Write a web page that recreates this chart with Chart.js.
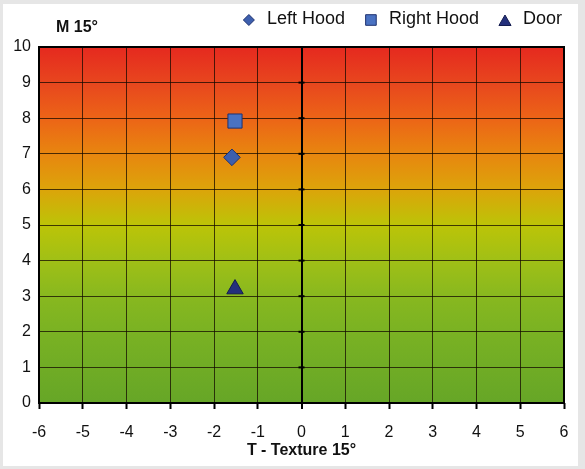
<!DOCTYPE html>
<html>
<head>
<meta charset="utf-8">
<script src="https://cdn.jsdelivr.net/npm/chart.js@4/dist/chart.umd.min.js"></script>
<style>
  html, body { margin: 0; padding: 0; background: #e6e6e6; }
  #wrap { position: absolute; left: 3px; top: 4px; width: 575px; height: 462px; background: #fff; }
</style>
</head>
<body>
<div id="wrap"><canvas id="chart"></canvas></div>
<script>
// Chart data
const seriesNames = ['Left Hood', 'Right Hood', 'Door'];
const textureValues = [-1.59, -1.52, -1.52];   // T - Texture 15°
const metallicValues = [6.90, 7.92, 3.2];      // M 15°
const xTicks = [-6, -5, -4, -3, -2, -1, 0, 1, 2, 3, 4, 5, 6];
const yTicks = [0, 1, 2, 3, 4, 5, 6, 7, 8, 9, 10];

const pointStyles = ['rectRot', 'rect', 'triangle'];
const fills = ['#3d5fae', '#4a72c2', '#24307c'];
const borders = ['#1f3270', '#1f3270', '#141c50'];
const radii = [8.3, 10, 9.5];
const legendRadii = [5.5, 7.5, 7];

const FONT = '"Liberation Sans", Arial, sans-serif';

// Red -> orange -> yellow-green -> green background, frame, legend and y caption
const bgPlugin = {
    id: 'bgGradient',
    beforeDraw(chart) {
        const { ctx, chartArea: a } = chart;
        const g = ctx.createLinearGradient(0, a.top, 0, a.bottom);
        g.addColorStop(0, '#e5291f');
        g.addColorStop(0.1, '#e8461e');
        g.addColorStop(0.2, '#ec6417');
        g.addColorStop(0.3, '#e8860f');
        g.addColorStop(0.4, '#dca40a');
        g.addColorStop(0.5, '#bcc407');
        g.addColorStop(0.6, '#a0c016');
        g.addColorStop(0.7, '#88b81f');
        g.addColorStop(0.8, '#7ab223');
        g.addColorStop(0.9, '#70ac25');
        g.addColorStop(1, '#66a627');
        ctx.save();
        ctx.fillStyle = g;
        ctx.fillRect(a.left, a.top, a.right - a.left, a.bottom - a.top);
        ctx.restore();
    },
    afterDraw(chart) {
        const { ctx, chartArea: a, scales } = chart;
        ctx.save();
        // plot frame
        ctx.strokeStyle = '#000';
        ctx.lineWidth = 2;
        ctx.strokeRect(a.left, a.top, a.right - a.left, a.bottom - a.top);
        // little ticks on the zero axis
        const x0 = scales.x.getPixelForValue(0);
        yTicks.forEach(v => {
            const y = scales.y.getPixelForValue(v);
            ctx.beginPath();
            ctx.moveTo(x0 - 3, y);
            ctx.lineTo(x0 + 3, y);
            ctx.stroke();
        });
        // y axis caption
        ctx.fillStyle = '#111';
        ctx.font = 'bold 16px ' + FONT;
        ctx.textBaseline = 'middle';
        ctx.textAlign = 'left';
        ctx.fillText('M 15°', 53, 24);

        // legend, laid out from the right
        ctx.font = '18px ' + FONT;
        let xEnd = 559;
        for (let i = seriesNames.length - 1; i >= 0; i--) {
            const w = ctx.measureText(seriesNames[i]).width;
            const tx = xEnd - w;
            const mx = tx - 18;
            ctx.fillStyle = '#111';
            ctx.fillText(seriesNames[i], tx, 15);
            ctx.fillStyle = fills[i];
            ctx.strokeStyle = borders[i];
            ctx.lineWidth = 1;
            Chart.helpers.drawPoint(ctx, {
                pointStyle: pointStyles[i],
                radius: legendRadii[i],
                rotation: 0,
                borderWidth: 1
            }, mx, pointStyles[i] === 'triangle' ? 18 : 16);
            xEnd = mx - 26;
        }
        ctx.restore();
    }
};

const datasets = seriesNames.map((name, i) => ({
    label: name,
    data: [{ x: textureValues[i], y: metallicValues[i] }],
    pointStyle: pointStyles[i],
    backgroundColor: fills[i],
    borderColor: borders[i],
    borderWidth: 1,
    pointRadius: radii[i],
    pointHoverRadius: radii[i]
}));

new Chart(document.getElementById('chart'), {
    type: 'scatter',
    data: { datasets: datasets },
    plugins: [bgPlugin],
    options: {
        responsive: true,
        maintainAspectRatio: false,
        animation: false,
        layout: { padding: { top: 43, right: 14, bottom: 6, left: 0 } },
        plugins: {
            tooltip: { enabled: false },
            legend: { display: false }
        },
        scales: {
            x: {
                type: 'linear',
                min: -6,
                max: 6,
                afterBuildTicks: s => { s.ticks = xTicks.map(v => ({ value: v })); },
                afterFit: s => {
                    s.height = 57;
                    s.paddingLeft = 5;
                    s.paddingRight = 5;
                },
                border: { display: false },
                grid: {
                    color: c => c.tick && c.tick.value === 0 ? '#000' : 'rgba(20,10,0,0.75)',
                    lineWidth: c => c.tick && c.tick.value === 0 ? 2 : 1,
                    drawTicks: true,
                    tickLength: 6,
                    tickColor: '#000',
                    tickWidth: 2
                },
                ticks: {
                    color: '#111',
                    padding: 14,
                    font: { family: FONT, size: 16 }
                },
                title: {
                    display: true,
                    text: 'T - Texture 15°',
                    color: '#111',
                    padding: { top: 2, bottom: 0 },
                    font: { family: FONT, size: 16, weight: 'bold' }
                }
            },
            y: {
                type: 'linear',
                min: 0,
                max: 10,
                afterBuildTicks: s => { s.ticks = yTicks.map(v => ({ value: v })); },
                afterFit: s => { s.width = 36; },
                border: { display: false },
                grid: {
                    color: 'rgba(20,10,0,0.75)',
                    lineWidth: 1,
                    drawTicks: false
                },
                ticks: {
                    color: '#111',
                    padding: 8,
                    font: { family: FONT, size: 16 }
                }
            }
        }
    }
});
</script>
</body>
</html>
